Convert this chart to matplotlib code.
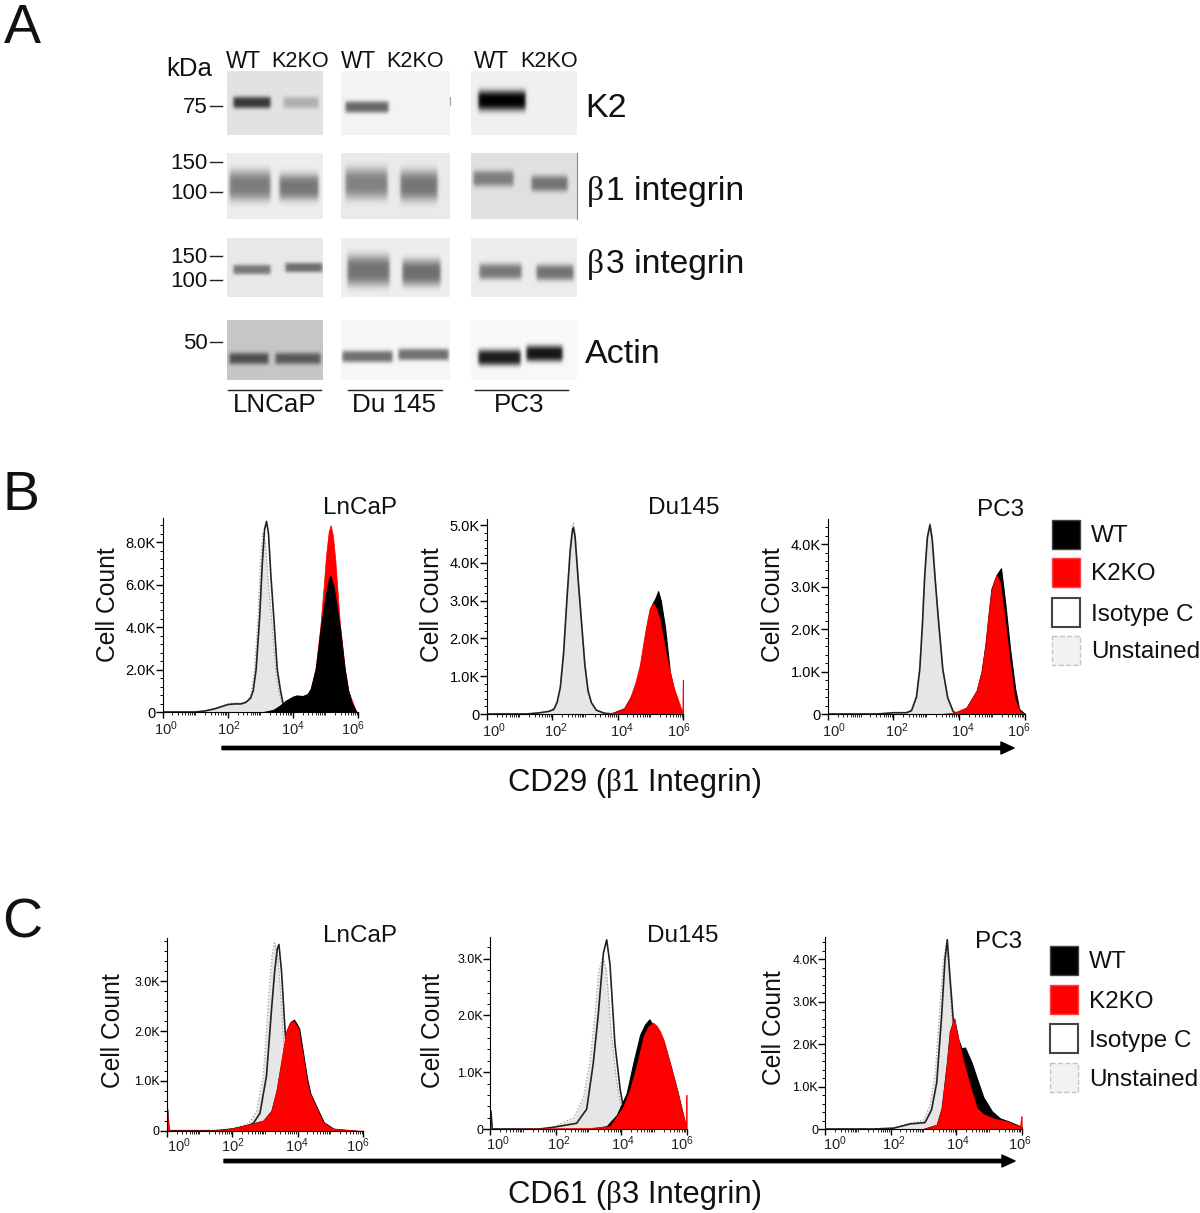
import numpy as np
import matplotlib
matplotlib.use('Agg')
import matplotlib.pyplot as plt
from matplotlib.patches import Rectangle
from matplotlib.ticker import AutoMinorLocator, FuncFormatter, LogLocator, NullFormatter

plt.rcParams['font.family'] = ['Liberation Sans', 'DejaVu Sans']
plt.rcParams['mathtext.default'] = 'regular'

W, H = 1200, 1213
SERIF = ['Liberation Serif', 'DejaVu Serif']

# x = log10 of intensity, y = cell count in thousands
# panel B, LnCaP
B1_UN_X = [0, 1.0, 1.4, 1.8, 2.1, 2.4, 2.6, 2.72, 2.82, 2.93, 3.0, 3.07, 3.15, 3.25, 3.35, 3.47, 3.57, 3.66, 3.75, 3.9]
B1_UN_Y = [0, 0, 0.08, 0.25, 0.42, 0.42, 0.5, 0.9, 2.0, 4.5, 7.0, 8.4, 8.0, 6.0, 4.3, 2.0, 1.0, 0.4, 0.1, 0]
B1_ISO_X = [0, 1.0, 1.3, 1.6, 1.8, 2.0, 2.2, 2.4, 2.55, 2.7, 2.78, 2.87, 2.98, 3.06, 3.13, 3.19, 3.25, 3.32, 3.41, 3.52, 3.62, 3.7, 3.78, 3.9]
B1_ISO_Y = [0, 0, 0.05, 0.15, 0.25, 0.35, 0.38, 0.38, 0.45, 0.65, 1.0, 2.0, 4.5, 7.0, 8.6, 8.97, 8.4, 6.5, 4.5, 2.0, 1.0, 0.4, 0.1, 0]
B1_WT_X = [3.1, 3.4, 3.6, 3.8, 4.0, 4.11, 4.3, 4.45, 4.55, 4.7, 4.86, 5.0, 5.1, 5.15, 5.25, 5.35, 5.44, 5.59, 5.7, 5.8, 5.95]
B1_WT_Y = [0, 0.1, 0.3, 0.55, 0.72, 0.78, 0.75, 0.85, 1.1, 2.0, 4.0, 5.4, 6.2, 6.4, 5.9, 4.9, 4.0, 2.0, 1.0, 0.45, 0]
B1_KO_X = [0, 4.35, 4.55, 4.7, 4.84, 4.95, 5.02, 5.1, 5.16, 5.23, 5.3, 5.38, 5.44, 5.59, 5.7, 5.95]
B1_KO_Y = [0, 0, 1.1, 2.1, 4.0, 6.0, 7.4, 8.5, 8.8, 8.3, 7.2, 5.5, 4.2, 2.1, 1.0, 0]

# panel B, Du145
B2_UN_X = [0, 1.2, 1.6, 1.9, 2.05, 2.15, 2.25, 2.35, 2.45, 2.55, 2.62, 2.65, 2.7, 2.8, 2.9, 3.0, 3.1, 3.2, 3.35, 3.6, 3.9]
B2_UN_Y = [0, 0, 0.03, 0.07, 0.14, 0.33, 0.75, 1.7, 3.1, 4.4, 5.0, 5.05, 4.8, 3.6, 2.45, 1.35, 0.65, 0.32, 0.1, 0.02, 0]
B2_ISO_X = [0, 1.2, 1.6, 1.9, 2.05, 2.15, 2.25, 2.35, 2.45, 2.55, 2.62, 2.65, 2.7, 2.8, 2.9, 3.0, 3.1, 3.2, 3.35, 3.6, 3.9]
B2_ISO_Y = [0, 0, 0.03, 0.07, 0.12, 0.3, 0.7, 1.6, 3.0, 4.3, 4.85, 4.93, 4.7, 3.5, 2.4, 1.3, 0.6, 0.3, 0.1, 0.02, 0]
B2_WT_X = [3.76, 4.2, 4.5, 4.7, 4.9, 5.05, 5.15, 5.24, 5.32, 5.45, 5.6, 5.75, 5.9, 6.0]
B2_WT_Y = [0, 0.15, 0.6, 1.25, 2.35, 2.9, 3.05, 3.25, 3.0, 2.3, 1.1, 0.55, 0.15, 0.02]
B2_KO_X = [0, 3.5, 3.97, 4.2, 4.37, 4.55, 4.68, 4.8, 4.88, 4.98, 5.09, 5.2, 5.29, 5.49, 5.7, 5.9, 5.98, 5.99, 6.0]
B2_KO_Y = [0, 0, 0.05, 0.15, 0.4, 0.85, 1.3, 1.95, 2.35, 2.8, 2.94, 2.75, 2.5, 1.55, 0.75, 0.25, 0.05, 0.9, 0.9]

# panel B, PC3
B3_UN_X = [0, 1.5, 2.0, 2.4, 2.55, 2.7, 2.8, 2.88, 2.95, 3.03, 3.11, 3.18, 3.28, 3.38, 3.5, 3.65, 3.82, 4.0]
B3_UN_Y = [0, 0, 0.03, 0.03, 0.1, 0.45, 1.1, 2.15, 3.3, 4.2, 4.5, 4.15, 3.1, 2.15, 1.1, 0.4, 0.06, 0]
B3_ISO_X = [0, 1.5, 2.0, 2.4, 2.55, 2.7, 2.8, 2.88, 2.95, 3.03, 3.11, 3.18, 3.28, 3.38, 3.5, 3.65, 3.82, 4.0]
B3_ISO_Y = [0, 0, 0.03, 0.03, 0.08, 0.4, 1.05, 2.1, 3.25, 4.15, 4.45, 4.1, 3.05, 2.1, 1.05, 0.38, 0.05, 0]
B3_WT_X = [3.82, 4.22, 4.53, 4.68, 4.8, 4.9, 4.98, 5.14, 5.27, 5.4, 5.55, 5.7, 5.82, 5.95, 6.0]
B3_WT_Y = [0, 0.15, 0.55, 1.0, 1.65, 2.4, 2.95, 3.28, 3.43, 2.6, 1.5, 0.6, 0.12, 0.03, 0]
B3_KO_X = [0, 3.4, 3.82, 4.22, 4.53, 4.68, 4.8, 4.9, 4.98, 5.06, 5.14, 5.24, 5.39, 5.54, 5.69, 5.85, 6.0]
B3_KO_Y = [0, 0, 0.03, 0.15, 0.55, 1.0, 1.65, 2.4, 2.9, 3.15, 3.27, 3.1, 2.2, 1.2, 0.35, 0.05, 0]

# panel C, LnCaP
C1_UN_X = [0, 0.03, 0.07, 1.5, 2.0, 2.5, 2.75, 2.95, 3.05, 3.15, 3.22, 3.3, 3.4, 3.5, 3.6, 3.75, 3.9]
C1_UN_Y = [0.4, 0.4, 0, 0, 0.03, 0.14, 0.4, 1.1, 2.0, 3.0, 3.5, 3.77, 3.5, 2.6, 1.5, 0.5, 0.1]
C1_ISO_X = [0, 0.03, 0.07, 1.5, 2.0, 2.5, 2.65, 2.85, 3.05, 3.2, 3.3, 3.38, 3.43, 3.51, 3.6, 3.75, 3.9]
C1_ISO_Y = [0.5, 0.4, 0, 0, 0.03, 0.1, 0.15, 0.35, 1.1, 2.4, 3.2, 3.65, 3.74, 3.2, 2.2, 0.7, 0.1]
C1_WT_X = [1.5, 2.03, 2.54, 2.95, 3.2, 3.36, 3.52, 3.67, 3.78, 3.89, 3.97, 4.05, 4.17, 4.29, 4.39, 4.6, 4.8, 5.1, 5.8]
C1_WT_Y = [0, 0.05, 0.13, 0.2, 0.4, 0.8, 1.4, 2.0, 2.18, 2.23, 2.15, 2.05, 1.55, 1.05, 0.75, 0.45, 0.17, 0.04, 0]
C1_KO_X = [0, 0.03, 0.07, 1.5, 2.03, 2.54, 2.95, 3.2, 3.35, 3.5, 3.65, 3.76, 3.87, 3.95, 4.02, 4.15, 4.27, 4.37, 4.58, 4.78, 5.08, 5.8, 6.0]
C1_KO_Y = [0.35, 0.3, 0, 0, 0.05, 0.13, 0.2, 0.4, 0.8, 1.4, 2.0, 2.17, 2.2, 2.13, 2.05, 1.55, 1.05, 0.75, 0.45, 0.17, 0.04, 0, 0]

# panel C, Du145
C2_UN_X = [0, 0.03, 0.07, 1.5, 1.93, 2.55, 2.85, 3.05, 3.2, 3.32, 3.44, 3.55, 3.7, 3.85, 4.0, 4.12]
C2_UN_Y = [0.35, 0.3, 0, 0, 0.03, 0.2, 0.55, 1.2, 2.0, 2.8, 3.02, 2.8, 1.7, 0.9, 0.4, 0.15]
C2_ISO_X = [0, 0.03, 0.07, 1.5, 1.93, 2.64, 2.95, 3.15, 3.3, 3.46, 3.56, 3.66, 3.81, 3.97, 4.12, 4.3]
C2_ISO_Y = [0.35, 0.3, 0, 0, 0.03, 0.1, 0.35, 1.16, 2.0, 3.1, 3.33, 2.9, 1.5, 0.7, 0.2, 0.05]
C2_WT_X = [3.05, 3.56, 3.87, 4.17, 4.37, 4.58, 4.73, 4.86, 4.95, 5.1, 5.29, 5.49, 5.7, 5.9, 5.97]
C2_WT_Y = [0, 0.05, 0.25, 0.63, 1.16, 1.66, 1.84, 1.93, 1.85, 1.75, 1.55, 1.15, 0.7, 0.22, 0.05]
C2_KO_X = [0, 3.05, 3.66, 4.07, 4.27, 4.48, 4.68, 4.83, 4.98, 5.08, 5.19, 5.29, 5.49, 5.7, 5.9, 5.97, 5.98, 6.0]
C2_KO_Y = [0, 0.02, 0.05, 0.4, 0.7, 1.13, 1.63, 1.81, 1.87, 1.82, 1.72, 1.58, 1.16, 0.7, 0.22, 0.06, 0.6, 0.6]

# panel C, PC3
C3_UN_X = [0, 1.5, 2.09, 2.6, 3.0, 3.2, 3.36, 3.5, 3.6, 3.69, 3.77, 3.86, 3.98, 4.1, 4.3]
C3_UN_Y = [0, 0, 0.02, 0.14, 0.2, 0.55, 1.3, 2.8, 3.9, 4.3, 3.9, 2.8, 1.5, 0.6, 0.1]
C3_ISO_X = [0, 1.5, 2.09, 2.6, 3.05, 3.25, 3.41, 3.56, 3.66, 3.73, 3.81, 3.92, 4.03, 4.15, 4.3]
C3_ISO_Y = [0, 0, 0.02, 0.12, 0.15, 0.45, 1.1, 2.7, 4.0, 4.46, 3.6, 2.5, 1.4, 0.5, 0.1]
C3_WT_X = [3.0, 3.41, 3.56, 3.71, 3.81, 3.94, 4.07, 4.17, 4.27, 4.48, 4.63, 4.83, 5.09, 5.34, 5.6, 6.0]
C3_WT_Y = [0, 0.1, 0.5, 1.5, 2.3, 2.6, 2.1, 1.9, 1.92, 1.55, 1.2, 0.75, 0.42, 0.25, 0.18, 0.05]
C3_KO_X = [0, 3.0, 3.41, 3.56, 3.71, 3.81, 3.94, 4.07, 4.22, 4.43, 4.63, 4.83, 5.14, 5.55, 5.95, 5.98, 6.0]
C3_KO_Y = [0, 0, 0.1, 0.5, 1.5, 2.3, 2.6, 2.1, 1.6, 1.0, 0.5, 0.35, 0.25, 0.18, 0.05, 0.3, 0.3]

LANES = ['WT', 'K2KO']
CELL_LINES = ['LNCaP', 'Du 145', 'PC3']
PROTEINS = ['K2', 'β1 integrin', 'β3 integrin', 'Actin']
LEGEND_LABELS = ['WT', 'K2KO', 'Isotype C', 'Unstained']
BLOT_MARKERS = [('75', 105.7), ('150', 161.7), ('100', 191.7), ('150', 256), ('100', 280), ('50', 341.7)]

# grey level of each membrane, rows = proteins, cols = cell lines
BLOT_BG = [[226, 244, 240], [237, 234, 224], [232, 238, 236], [198, 246, 248]]
# band grey level per row, col, lane (K2KO absent = None)
BAND_GREY = [[[55, 175], [105, None], [0, None]],
             [[125, 118], [130, 118], [125, 115]],
             [[120, 110], [115, 110], [120, 115]],
             [[80, 90], [112, 112], [28, 22]]]


def hist_axes(fig, left, right, top, bottom, ymax, yticks, size, label_dx, label_pad):
    ax = fig.add_axes([left / W, 1 - bottom / H, (right - left) / W, (bottom - top) / H])
    ax.set_xscale('log')
    ax.set_xlim(1, 1e6)
    ax.set_ylim(0, ymax)
    for s in ['top', 'right']:
        ax.spines[s].set_visible(False)
    ax.xaxis.set_major_locator(LogLocator(base=100.0, numticks=5))
    ax.xaxis.set_minor_locator(LogLocator(base=10.0, subs=np.arange(1, 10), numticks=12))
    ax.xaxis.set_major_formatter(NullFormatter())
    ax.xaxis.set_minor_formatter(NullFormatter())
    ax.set_yticks(yticks)
    ax.yaxis.set_minor_locator(AutoMinorLocator(5))
    ax.yaxis.set_major_formatter(FuncFormatter(lambda v, p: '0' if v == 0 else f'{v:.1f}K'))
    ax.tick_params(axis='y', which='major', length=5, width=1, labelsize=size, pad=0)
    ax.tick_params(axis='y', which='minor', length=2.5, width=0.7)
    ax.tick_params(axis='x', which='major', length=4, width=1)
    ax.tick_params(axis='x', which='minor', length=2, width=0.6)
    # the decade labels sit off their ticks in the source, so they are placed one by one
    for dec, dx in zip([0, 2, 4, 6], label_dx):
        ax.annotate(f'$10^{{{dec}}}$', xy=(10.0 ** dec, 0), xycoords=('data', 'axes fraction'),
                    xytext=(dx * 0.72, -label_pad), textcoords='offset points',
                    ha='center', va='top', fontsize=10.5, color='#222222', annotation_clip=False)
    return ax


def draw_hist(ax, un, iso, wt, ko, red_first):
    x = lambda a: 10 ** np.array(a, dtype=float)
    ax.fill_between(x(un[0]), un[1], color='#e6e6e6', lw=0, zorder=1)
    ax.plot(x(un[0]), un[1], color='#9a9a9a', lw=0.9, ls=':', zorder=1.1)
    ax.plot(x(iso[0]), iso[1], color='#222222', lw=1.2, zorder=1.2)
    z_wt, z_ko = (1.6, 1.5) if red_first else (1.5, 1.6)
    ax.fill_between(x(wt[0]), wt[1], color='black', lw=0.8, zorder=z_wt)
    ax.fill_between(x(ko[0]), ko[1], color='#ff0000', lw=0.5, zorder=z_ko)


def draw_blot(page, x0, x1, y0, y1, bg, bands):
    xs, ys = np.meshgrid(np.arange(x0, x1, 1.0), np.arange(y0, y1, 1.0))
    img = np.full(xs.shape, float(bg))
    for bx0, bx1, yc, hy, grey in bands:
        if grey is None:
            continue
        mask = 0.5 * (np.tanh((xs - bx0) / 2.0) - np.tanh((xs - bx1) / 2.0)) * np.exp(-np.abs((ys - yc) / hy) ** 3)
        img = np.minimum(img, bg + (grey - bg) * mask)
    page.imshow(img, cmap='gray', vmin=0, vmax=255, extent=(x0, x1, y1, y0), aspect='auto',
                interpolation='bilinear', zorder=1)


fig = plt.figure(figsize=(W / 100, H / 100), dpi=100)
page = fig.add_axes([0, 0, 1, 1], zorder=5)
page.patch.set_alpha(0)
page.axis('off')

# western blots
col_x = [(227, 323), (341, 450), (471, 577)]
row_y = [(71, 135), (153, 219), (238, 297), (320, 380)]
lane_x = [[[(233, 270), (283, 318)], [(345, 388), (400, 437)], [(478, 525), (531, 567)]],
          [[(229, 270), (279, 318)], [(345, 387), (400, 437)], [(473, 513), (531, 567)]],
          [[(233, 270), (285, 322)], [(347, 389), (402, 440)], [(479, 521), (536, 573)]],
          [[(229, 268), (275, 320)], [(342, 392), (398, 448)], [(478, 520), (526, 562)]]]
band_y = [[[(102, 6), (102, 6)], [(106.5, 6), (106, 5)], [(100, 10), (100, 8)]],
          [[(185, 15), (186.5, 13)], [(183, 15), (185, 15)], [(178, 8), (183, 8)]],
          [[(269, 5), (267, 5)], [(270, 15), (272, 13)], [(271, 8), (272, 8)]],
          [[(358, 6), (358, 6)], [(356, 6), (354, 6)], [(357, 8), (353, 8)]]]
for r, (y0, y1) in enumerate(row_y):
    for c, (x0, x1) in enumerate(col_x):
        bands = []
        for lane in range(2):
            bx0, bx1 = lane_x[r][c][lane]
            yc, hy = band_y[r][c][lane]
            bands.append((bx0, bx1, yc, hy, BAND_GREY[r][c][lane]))
        draw_blot(page, x0, x1, y0, y1, BLOT_BG[r][c], bands)
page.plot([577, 577], [153, 219], color='#8a8a8a', lw=0.8)
page.plot([449.5, 449.5], [97, 105], color='#a0a0a0', lw=0.8)
page.set_xlim(0, W)
page.set_ylim(H, 0)


def txt(x, y, s, size, **kw):
    # centred text sits a little high in this font, nudge it back
    if kw.get('rotation'):
        x += 3
    elif kw.get('va', 'center') == 'center':
        y += 2.5
    kw.setdefault('va', 'center')
    kw.setdefault('ha', 'center')
    kw.setdefault('color', '#111111')
    return page.text(x, y, s, fontsize=size, **kw)


txt(22, 43, 'A', 40, va='baseline')
txt(21, 510, 'B', 40, va='baseline')
txt(22, 937, 'C', 40, va='baseline')
txt(189, 67, 'kDa', 18.5)

lane_label_x = [(243, 300), (358, 415), (491, 549)]
for (xa, xb) in lane_label_x:
    txt(xa, 59, LANES[0], 16.3)
    txt(xb, 59, LANES[1], 15.6)

for lab, y in BLOT_MARKERS:
    txt(208, y - 1, lab, 16, ha='right')
    page.plot([210, 222], [y, y], color='#222222', lw=1)

line_x = [(228, 321), (348, 442), (475, 568)]
line_label_x = [275, 394, 519]
for (xa, xb), lx, name in zip(line_x, line_label_x, CELL_LINES):
    page.plot([xa, xb], [390, 390], color='#222222', lw=1)
    txt(lx, 403, name, 18.7)

protein_base = [117, 200, 273, 363]
for name, y in zip(PROTEINS, protein_base):
    if name.startswith('β'):
        txt(587, y, 'β', 24.2, family=SERIF, va='baseline', ha='left')
        txt(606, y, name[1:], 24.2, va='baseline', ha='left')
    else:
        txt(585, y, name, 24.5, va='baseline', ha='left')

# flow histograms
panels = [
    (162.7, 358, 518, 712, 9.13, [0, 2, 4, 6, 8], 10.5, [3, 1, 0, -5], 5,
     (B1_UN_X, B1_UN_Y), (B1_ISO_X, B1_ISO_Y), (B1_WT_X, B1_WT_Y), (B1_KO_X, B1_KO_Y), True),
    (486.7, 683, 519, 714, 5.16, [0, 1, 2, 3, 4, 5], 10.5, [7, 4, 4, -4], 5,
     (B2_UN_X, B2_UN_Y), (B2_ISO_X, B2_ISO_Y), (B2_WT_X, B2_WT_Y), (B2_KO_X, B2_KO_Y), False),
    (827.7, 1025, 519, 714, 4.59, [0, 1, 2, 3, 4], 10.5, [6, 3, 4, -6], 5,
     (B3_UN_X, B3_UN_Y), (B3_ISO_X, B3_ISO_Y), (B3_WT_X, B3_WT_Y), (B3_KO_X, B3_KO_Y), False),
    (166.7, 363, 938, 1130.7, 3.87, [0, 1, 2, 3], 9, [12, 1, -1, -5], 4,
     (C1_UN_X, C1_UN_Y), (C1_ISO_X, C1_ISO_Y), (C1_WT_X, C1_WT_Y), (C1_KO_X, C1_KO_Y), False),
    (490, 686.7, 937, 1129, 3.38, [0, 1, 2, 3], 9, [8, 3, 2, -5], 4,
     (C2_UN_X, C2_UN_Y), (C2_ISO_X, C2_ISO_Y), (C2_WT_X, C2_WT_Y), (C2_KO_X, C2_KO_Y), False),
    (825, 1021.7, 936.7, 1129, 4.53, [0, 1, 2, 3, 4], 9, [10, 3, 2, -2], 4,
     (C3_UN_X, C3_UN_Y), (C3_ISO_X, C3_ISO_Y), (C3_WT_X, C3_WT_Y), (C3_KO_X, C3_KO_Y), False),
]
for p in panels:
    ax = hist_axes(fig, *p[:9])
    draw_hist(ax, *p[9:])

titles = [('LnCaP', 360, 506), ('Du145', 684, 506), ('PC3', 1001, 507),
          ('LnCaP', 360, 933), ('Du145', 683, 933), ('PC3', 999, 940)]
for s, x, y in titles:
    txt(x, y, s, 17.5)

for x, y in [(105, 605), (429, 605), (770, 605), (110, 1031), (430, 1031), (771, 1028)]:
    txt(x, y, 'Cell Count', 17.7, rotation=90)

# arrows under the histogram rows
for x0, x1, y in [(222, 1014, 748), (224, 1015, 1161)]:
    page.annotate('', xy=(x1, y), xytext=(x0, y),
                  arrowprops=dict(width=2.4, headwidth=8.6, headlength=9.4, color='black', shrink=0))

# axis titles: beta is set in a serif face as in the source
for y, head, tail in [(782, 'CD29 (', '1 Integrin)'), (1194, 'CD61 (', '3 Integrin)')]:
    txt(508, y - 1, head, 22.3, ha='left')
    txt(606, y - 1, 'β', 22.3, family=SERIF, ha='left')
    txt(622, y - 1, tail, 22.3, ha='left')

# hand-placed legends
legend_styles = [dict(fc='black', ec='#444444', lw=1),
                 dict(fc='#ff0000', ec='#ff4040', lw=1),
                 dict(fc='white', ec='#444444', lw=1.5),
                 dict(fc='#f2f2f2', ec='#c4c4c4', lw=1, ls='--')]
for box_x, text_x, tops in [(1052, 1091, [520, 558, 598, 636]), (1050, 1089, [946, 985, 1024, 1063])]:
    for top, lab, st in zip(tops, LEGEND_LABELS, legend_styles):
        page.add_patch(Rectangle((box_x, top), 28, 29, **st))
        txt(text_x, top + 14, lab, 17.5, ha='left')

fig.savefig('out.png', dpi=100)
